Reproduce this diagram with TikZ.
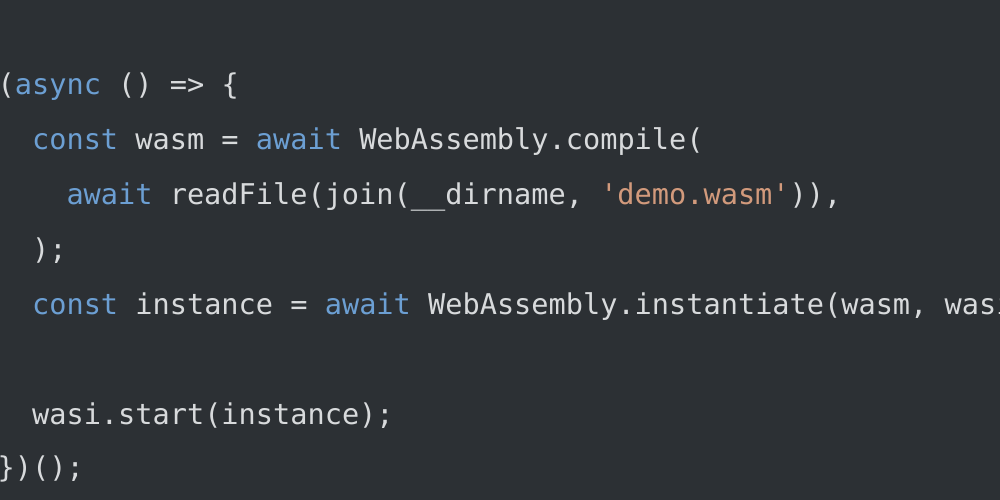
\documentclass[tikz,border=0pt]{standalone}
\usepackage{fontspec}
\newfontfamily\code{DejaVu Sans Mono}
\definecolor{bg}{HTML}{2C3034}
\definecolor{fg}{HTML}{D8DADC}
\definecolor{kw}{HTML}{6C9FD3}
\definecolor{str}{HTML}{D29A7C}
\newcommand{\kw}[1]{\textcolor{kw}{#1}}
\newcommand{\str}[1]{\textcolor{str}{#1}}
\begin{document}
\begin{tikzpicture}[x=1pt,y=1pt,
  codeline/.style={anchor=base west,inner sep=0pt,text=fg,font=\code\fontsize{28.6}{30}\selectfont}]
\fill[bg] (0,0) rectangle (1000,500);
\useasboundingbox (0,0) rectangle (1000,500);
\begin{scope}
\clip (0,0) rectangle (1000,500);
\node[codeline] (l1) at (-2.5,405) {(\kw{async} () => \{};
\node[codeline] (l2) at (31.9,350) {\kw{const} wasm = \kw{await} WebAssembly.compile(};
\node[codeline] (l3) at (66.3,295) {\kw{await} readFile(join(\_\_dirname, \str{'demo.wasm'})),};
\node[codeline] (l4) at (31.9,240) {);};
\node[codeline] (l5) at (31.9,185) {\kw{const} instance = \kw{await} WebAssembly.instantiate(wasm, wasi.getImportObject());};
\node[codeline] (l7) at (31.9,75) {wasi.start(instance);};
\node[codeline] (l8) at (-2.5,22) {\})();};
\end{scope}
\end{tikzpicture}
\end{document}
